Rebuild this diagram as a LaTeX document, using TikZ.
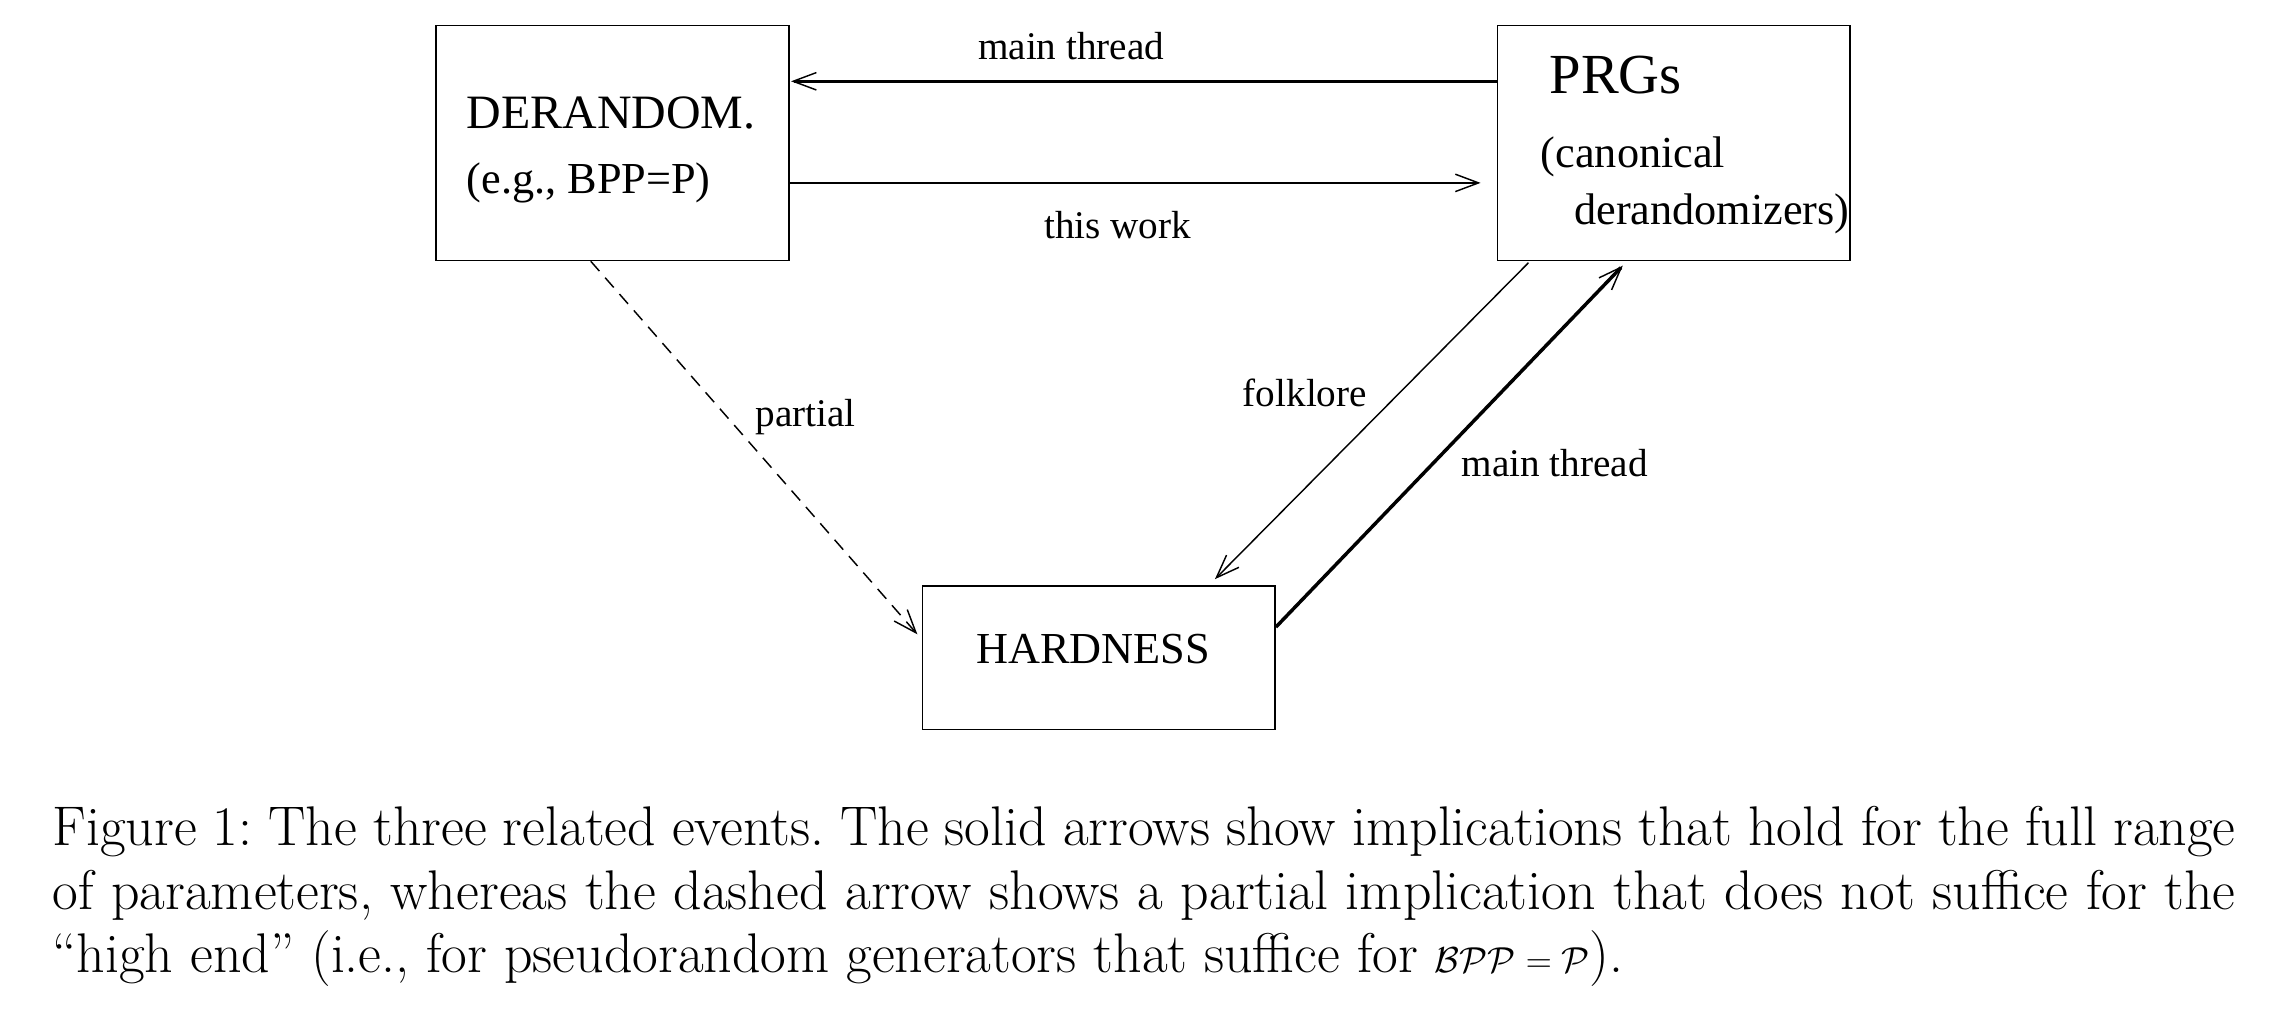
\documentclass[tikz,border=0pt]{standalone}
\usepackage{fontspec}
\usepackage{amsmath}
\setmainfont{Latin Modern Roman}
\newfontfamily\fig{Liberation Serif}
\usetikzlibrary{arrows.meta}
\begin{document}
\begin{tikzpicture}[x=1pt,y=-1pt,
  box/.style={draw,line width=1.1pt,minimum width=243pt,inner sep=0},
  lab/.style={font=\fig\fontsize{27}{32}\selectfont,anchor=center},
  blab/.style={font=\fig\fontsize{30.5}{36}\selectfont,anchor=west},
  tip/.style={-{Straight Barb[length=16pt,width=12pt,line width=1pt]}},
  thin/.style={line width=1pt,tip},
  thick/.style={line width=2.4pt,tip}]
\useasboundingbox (0,0) rectangle (1568,699);
\node[box,minimum height=162pt,anchor=north west] (der) at (300,17) {};
\node[box,minimum height=162pt,anchor=north west] (prg) at (1031,17) {};
\node[box,minimum height=99pt,anchor=north west] (hard) at (635,403) {};
\node[blab,font=\fig\fontsize{33}{36}\selectfont] (t1) at (318,78) {DERANDOM.};
\node[blab] (t2) at (318,126) {(e.g., BPP=P)};
\node[font=\fig\fontsize{39}{44}\selectfont,anchor=west] (t3) at (1064,52) {PRGs};
\node[blab] (t4) at (1058,108) {(canonical};
\node[blab] (t5) at (1081,147) {derandomizers)};
\node[blab,anchor=center] (t6) at (753,447) {HARDNESS};
\coordinate (a1) at (1031,56); \coordinate (a2) at (545,56);
\coordinate (b1) at (543,126); \coordinate (b2) at (1020,126);
\coordinate (c1) at (407,180); \coordinate (c2) at (632,437);
\coordinate (d1) at (1053,181); \coordinate (d2) at (837,399);
\coordinate (e1) at (879,432); \coordinate (e2) at (1118,183);
\draw[thick] (a1) -- (a2);
\draw[thin] (b1) -- (b2);
\draw[thin,dash pattern=on 9pt off 6pt] (c1) -- (c2);
\draw[thin] (d1) -- (d2);
\draw[thick] (e1) -- (e2);
\node[lab] (l1) at (738,32) {main thread};
\node[lab] (l2) at (770,155) {this work};
\node[lab] (l3) at (555,287) {partial};
\node[lab] (l4) at (899,271) {folklore};
\node[lab] (l5) at (1071,319) {main thread};
\node[anchor=north west,inner sep=0,text width=1504pt,align=justify,
  font=\fontsize{38.5}{44}\selectfont\frenchspacing] (cap) at (36,555)
  {\hbox to 1504pt{Figure 1: The three related events. The solid arrows show implications that hold for the full range}\par
   \hbox to 1504pt{of parameters, whereas the dashed arrow shows a partial implication that does not suffice for the}\par
   ``high end'' (i.e., for pseudorandom generators that suffice for $\mathcal{BPP}=\mathcal{P}$).};
\end{tikzpicture}
\end{document}
